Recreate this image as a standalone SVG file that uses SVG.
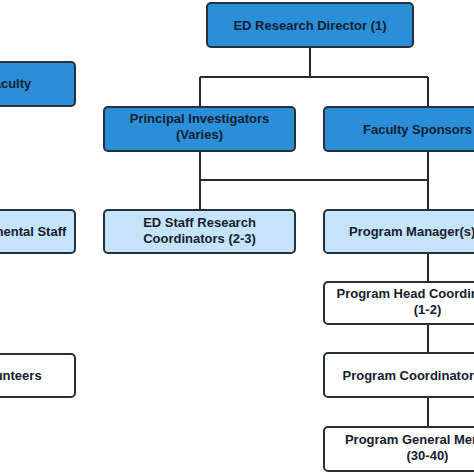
<svg xmlns="http://www.w3.org/2000/svg" width="474" height="474" viewBox="0 0 474 474">
<style>
.box{stroke:#26303c;stroke-width:2}
.dark{fill:#2a8ed9}
.light{fill:#c6e4f9}
.white{fill:#ffffff}
text{font-family:"Liberation Sans",Arial,sans-serif;font-size:13px;font-weight:bold;fill:#15202e}
.m{text-anchor:middle}
.conn{stroke:#26292e;stroke-width:2;fill:none}
</style>
<rect width="474" height="474" fill="#ffffff"/>
<g id="connectors">
<path class="conn" d="M310 47V77M200 77H428M200 77V107M428 77V107"/>
<path class="conn" d="M200 151V210M428 151V210M200 180H428"/>
<path class="conn" d="M428 253V282M428 324V353M428 397V427"/>
</g>
<g id="director">
<rect class="box dark" x="207" y="3" width="206" height="44" rx="4"/>
<text class="m" x="310" y="29.5">ED Research Director (1)</text>
</g>
<g id="faculty">
<rect class="box dark" x="-58" y="62" width="133" height="44" rx="4"/>
<text class="m" x="8.5" y="88">Faculty</text>
</g>
<g id="principal-investigators">
<rect class="box dark" x="104" y="107" width="191" height="44" rx="4"/>
<text class="m" x="199.5" y="123">Principal Investigators</text>
<text class="m" x="199.5" y="139">(Varies)</text>
</g>
<g id="faculty-sponsors">
<rect class="box dark" x="324" y="107" width="207" height="44" rx="4"/>
<text x="363" y="133.5">Faculty Sponsors</text>
</g>
<g id="departmental-staff">
<rect class="box light" x="-58" y="210" width="133" height="43" rx="4"/>
<text class="m" x="8.5" y="236">Departmental Staff</text>
</g>
<g id="ed-staff-research-coordinators">
<rect class="box light" x="104" y="210" width="191" height="43" rx="4"/>
<text class="m" x="199.5" y="226.5">ED Staff Research</text>
<text class="m" x="199.5" y="243">Coordinators (2-3)</text>
</g>
<g id="program-managers">
<rect class="box light" x="324" y="210" width="207" height="43" rx="4"/>
<text x="349" y="236">Program Manager(s)</text>
</g>
<g id="volunteers">
<rect class="box white" x="-58" y="354" width="133" height="43" rx="4"/>
<text class="m" x="8.5" y="380">Volunteers</text>
</g>
<g id="program-head-coordinators">
<rect class="box white" x="324" y="282" width="207" height="42" rx="4"/>
<text x="336.5" y="298">Program Head Coordinator</text>
<text class="m" x="427.5" y="314">(1-2)</text>
</g>
<g id="program-coordinators">
<rect class="box white" x="324" y="353" width="207" height="44" rx="4"/>
<text x="342.5" y="380">Program Coordinator</text>
</g>
<g id="program-general-members">
<rect class="box white" x="324" y="427" width="207" height="44" rx="4"/>
<text class="m" x="428" y="443.5">Program General Members</text>
<text class="m" x="427.5" y="460">(30-40)</text>
</g>
</svg>
